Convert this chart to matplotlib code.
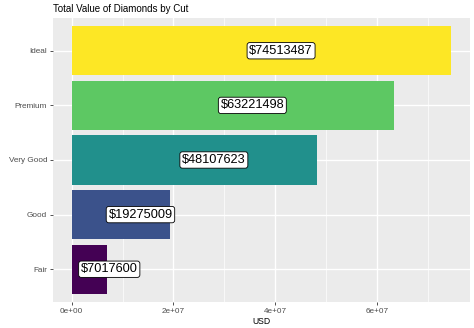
import numpy as np
import matplotlib
matplotlib.use('Agg')
from matplotlib import pyplot as plt

plt.rcParams['font.family'] = ['Liberation Sans', 'DejaVu Sans']

cuts = ['Fair', 'Good', 'Very Good', 'Premium', 'Ideal']
totals = [7017600, 19275009, 48107623, 63221498, 74513487]
colors = ['#440154', '#3B528B', '#21908C', '#5DC863', '#FDE725']
xticks = [0, 2e7, 4e7, 6e7]
xticklabels = ['0e+00', '2e+07', '4e+07', '6e+07']

fig = plt.figure(figsize=(4.74, 3.28), dpi=100)
ax = fig.add_axes([52.7/474, 26/328, 417.3/474, 284/328])
ax.set_facecolor('#EBEBEB')

y = np.arange(len(cuts))
ax.barh(y, totals, height=0.9, color=colors, zorder=2)

# labels sit a bit right of the bar midpoint
xmax = max(totals)
for yi, v in zip(y, totals):
    ax.text(v / 2 + 0.052 * xmax, yi, '$' + str(v), ha='center', va='center',
            fontsize=9.2, zorder=3,
            bbox=dict(boxstyle='round,pad=0.17,rounding_size=0.2', fc='white', ec='black', lw=0.6))

ax.set_xlim(-0.05 * xmax, 1.05 * xmax)
ax.set_ylim(-0.6, len(cuts) - 0.4)
ax.set_yticks(y)
ax.set_yticklabels(cuts)
ax.set_xticks(xticks)
ax.set_xticklabels(xticklabels)
ax.set_xticks([1e7, 3e7, 5e7, 7e7], minor=True)
ax.grid(True, which='major', color='white', lw=1.0, zorder=0)
ax.grid(True, which='minor', axis='x', color='white', lw=0.5, zorder=0)
ax.set_axisbelow(True)
for s in ax.spines.values():
    s.set_visible(False)
ax.tick_params(axis='both', which='major', labelsize=5.9, labelcolor='#4D4D4D',
               color='#333333', length=2.5, width=0.6, pad=1.5)
ax.tick_params(axis='both', which='minor', length=0)
ax.set_xlabel('USD', fontsize=6.2, labelpad=1.5)
fig.text(53.3/474, 1 - 11.7/328, 'Total Value of Diamonds by Cut', fontsize=7, va='baseline', ha='left')

fig.savefig('out.png', dpi=100)
